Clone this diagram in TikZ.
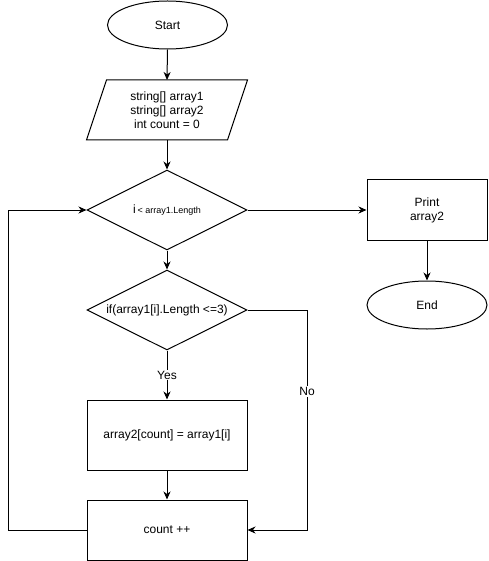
\documentclass[tikz,border=0pt]{standalone}
\usepackage{fontspec}
\setmainfont{Liberation Sans}
\usetikzlibrary{shapes.geometric,arrows.meta,calc}
\begin{document}
\begin{tikzpicture}[x=1pt,y=-1pt,
  every node/.style={font=\fontsize{12}{14}\selectfont, inner sep=0pt},
  term/.style={draw, ellipse, minimum width=120pt, minimum height=48pt},
  proc/.style={draw, rectangle, minimum width=160pt, align=center},
  dia/.style={draw, diamond, minimum width=160pt, minimum height=80pt},
  arr/.style={-{Stealth[length=8pt,width=7pt,inset=2.5pt]}, line width=1pt},
  lab/.style={fill=white, inner sep=1pt},
  line width=1pt]
\useasboundingbox (0,0) rectangle (488,561);

\node[term] (start) at (167.5,25) {Start};
\node[minimum width=160pt, minimum height=59pt, align=center] (p) at (167,110)
  {string[] array1\\string[] array2\\int count = 0};
\draw ($(p.north west)+(20,0)$) -- (p.north east) -- ($(p.south east)-(20,0)$) -- (p.south west) -- cycle;
\node[dia, label={center:{i\,{\fontsize{9}{10}\selectfont< array1.Length}}}] (d1) at (167,210) {};
\node[dia, label={center:{if(array1[i].Length <=3)}}] (d2) at (167,310) {};
\node[proc, minimum height=70pt] (r1) at (167,435) {array2[count] = array1[i]};
\node[proc, minimum height=60pt] (r2) at (167,530) {count ++};
\node[draw, rectangle, minimum width=120pt, minimum height=60pt, align=center] (pr) at (427,210) {Print\\array2};
\node[term] (end) at (427,305) {End};

\coordinate (lp) at (8,0);
\coordinate (np) at (307,0);

\draw[arr] (start.south) -- (p.north);
\draw[arr] (p.south) -- (d1.north);
\draw[arr] (d1.south) -- (d2.north);
\draw[arr] (d2.south) -- node[lab] {Yes} (r1.north);
\draw[arr] (r1.south) -- (r2.north);
\draw[arr] (r2.west) -- (lp |- r2.west) -- (lp |- d1.west) -- (d1.west);
\draw[arr] (d2.east) -- (np |- d2.east) -- node[lab, pos=0.37] {No} (np |- r2.east) -- (r2.east);
\draw[arr] (d1.east) -- (pr.west);
\draw[arr] (pr.south) -- (end.north);
\end{tikzpicture}
\end{document}
